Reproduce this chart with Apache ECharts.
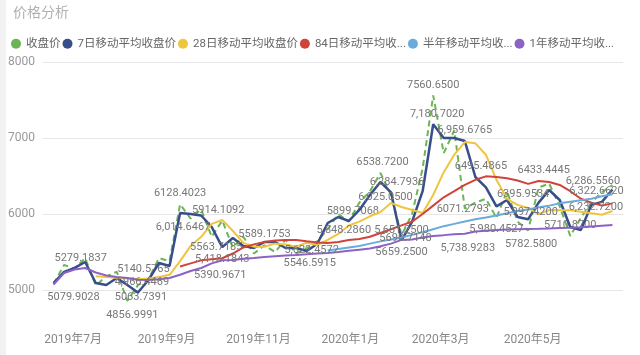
<!DOCTYPE html>
<html>
<head>
<meta charset="UTF-8">
<script src="https://cdn.jsdelivr.net/npm/echarts@6/dist/echarts.min.js"></script>
<title>价格分析</title>
</head>
<body style="margin:0">
<div id="main" style="width:640px;height:355px;"></div>
<script>
// weekly dates
var dates = ['2019-06-18','2019-06-25','2019-07-02','2019-07-09','2019-07-16','2019-07-23','2019-07-30',
  '2019-08-06','2019-08-13','2019-08-20','2019-08-27','2019-09-03','2019-09-10','2019-09-17','2019-09-24',
  '2019-10-01','2019-10-08','2019-10-15','2019-10-22','2019-10-29','2019-11-05','2019-11-12','2019-11-19',
  '2019-11-26','2019-12-03','2019-12-10','2019-12-17','2019-12-24','2019-12-31','2020-01-07','2020-01-14',
  '2020-01-21','2020-01-28','2020-02-04','2020-02-11','2020-02-18','2020-02-25','2020-03-03','2020-03-10',
  '2020-03-17','2020-03-24','2020-03-31','2020-04-07','2020-04-14','2020-04-21','2020-04-28','2020-05-05',
  '2020-05-12','2020-05-19','2020-05-26','2020-06-02','2020-06-09','2020-06-16','2020-06-23'];

var seriesNames = ['收盘价', '7日移动平均收盘价', '28日移动平均收盘价', '84日移动平均收盘价', '半年移动平均收盘价', '1年移动平均收盘价'];

var closePrice = [5079.9028, 5330, 5279.1837, 5420, 5060, 5180, 5240, 4856.9991, 5063.7391, 5140.5765, 5420, 5380,
  6128.4023, 5940, 6060, 5700, 5914.1092, 5560, 5700, 5480, 5589.1753, 5500, 5660, 5480, 5546.5915, 5640, 5800,
  6000, 5899.7068, 6150, 6300, 6538.72, 6250, 5720, 6000, 6600, 7560.65, 6800, 7100, 6071.2793, 6150, 6200,
  5950, 6300, 5900, 5782.58, 6350, 6400, 6100, 5710.87, 5950, 6150, 6286.556, 6380];

var ma7 = [5092, 5237, 5290, 5368, 5092, 5066, 5158, 5066, 4966.4469, 5132, 5355, 5316, 6014.6467, 6000, 5980,
  5829, 5563.7185, 5684, 5579, 5553, 5632, 5632, 5553, 5553, 5513, 5605, 5882, 5961, 5908, 6053, 6250, 6421,
  6284.7936, 5651.25, 5900, 6300, 7180.702, 7000, 7000, 6959.6765, 6487, 6350, 6100, 6184, 5961, 5930, 6150,
  6316, 6184, 5829, 5789, 6120, 6160, 6322.662];

var ma28 = [null, null, null, null, 5180, 5170, 5160, 5150, 5140, 5150, 5170, 5200, 5380, 5580, 5700, 5870,
  5921, 5780, 5620, 5570, 5570, 5610, 5600, 5570, 5622.4572, 5592, 5658, 5737, 5848.286, 5900, 5970, 6025.05,
  6145, 6092, 6053, 6013, 6250, 6550, 6780, 6947, 6930, 6780, 6450, 6200, 6120, 6079, 5997.42, 6053, 6050,
  6050, 6030, 6010, 5990, 6040];

var ma84 = [null, null, null, null, null, null, null, null, null, null, null, null, 5310, 5350, 5390, 5405,
  5418.1843, 5480, 5560, 5600, 5632, 5650, 5658, 5658, 5640, 5625, 5618, 5632, 5658, 5670, 5700, 5750, 5800,
  5850, 5900, 6000, 6110, 6220, 6300, 6382, 6450, 6495.4865, 6487, 6470, 6440, 6395.9534, 6433.4445, 6420,
  6382, 6300, 6200, 6150, 6110, 6140];

var maHalfYear = [null, null, null, null, null, null, null, null, null, null, null, null, null, null, null,
  null, null, null, null, null, null, null, null, null, null, null, 5520, 5540, 5560, 5580, 5610, 5640, 5665,
  5690.7148, 5725, 5760, 5800, 5840, 5870, 5900, 5930, 5955, 5980.4527, 6010, 6040, 6060, 6090, 6110, 6140,
  6160, 6180, 6200, 6232.72, 6260];

var maYear = [5070, 5224, 5270, 5290, 5230, 5190, 5170, 5158, 5135, 5132, 5140, 5158, 5200, 5250, 5289, 5350,
  5390.9671, 5395, 5410, 5421, 5434, 5445, 5455, 5461, 5470, 5480, 5487, 5500, 5515, 5530, 5545, 5575, 5610,
  5659.25, 5665, 5690, 5712, 5722, 5735, 5738.9283, 5770, 5780, 5789, 5795, 5800, 5803, 5806, 5810, 5815,
  5818, 5825, 5835, 5845, 5855];

var yTicks = [5000, 6000, 7000, 8000];

// labelled points: [series, point, position, comma, dx, dy]
var pointLabels = [
  [0, 0, 'bottom', 0, 20, 3],
  [0, 2, 'top', 0, 6, 0],
  [1, 8, 'top', 1, 4, 0],
  [0, 7, 'bottom', 0, 5, 4],
  [0, 8, 'bottom', 0, 3, 2],
  [0, 9, 'top', 0, -5, 0],
  [0, 12, 'top', 0, 0, 0],
  [1, 12, 'bottom', 1, 3, 4],
  [0, 16, 'top', 0, -4, 0],
  [1, 16, 'inside', 0, -6, 0],
  [3, 16, 'inside', 1, 0, 1],
  [5, 16, 'bottom', 0, -2, 4],
  [0, 20, 'top', 0, 0, 0],
  [2, 24, 'bottom', 1, 5, -3],
  [0, 24, 'bottom', 0, 3, 4],
  [2, 28, 'inside', 1, -5, 5],
  [0, 28, 'top', 0, 4, 0],
  [0, 31, 'top', 0, 2, 0],
  [1, 32, 'top', 1, 6, 0],
  [2, 31, 'top', 1, 5, -4],
  [1, 33, 'top', 1, 0, 0],
  [4, 33, 'inside', 0, 4, 1],
  [5, 33, 'bottom', 0, 0, 2],
  [0, 36, 'top', 0, 0, 0],
  [1, 36, 'top', 1, 4, 0],
  [1, 39, 'top', 1, 0, 0],
  [0, 39, 'inside', 0, -2, 1],
  [3, 41, 'top', 0, -5, 0],
  [4, 42, 'bottom', 1, 0, 3],
  [5, 39, 'bottom', 1, 3, 4],
  [3, 45, 'bottom', 0, -5, 0],
  [3, 46, 'top', 0, 5, 0],
  [2, 46, 'inside', 1, -8, -2],
  [0, 45, 'bottom', 0, 3, 3],
  [0, 49, 'top', 0, 0, 0],
  [0, 52, 'top', 1, -9, 0],
  [1, 53, 'inside', 1, -16, 2],
  [4, 52, 'bottom', 1, -6, 0]
];

var colors = ['#6cb556', '#384d8b', '#f0c53e', '#d0433b', '#6aabde', '#8c62c6'];
var allValues = [closePrice, ma7, ma28, ma84, maHalfYear, maYear];

function fmt(v, comma) {
  var s = v.toFixed(4);
  if (!comma) return s;
  var p = s.split('.');
  return p[0].replace(/\B(?=(\d{3})+(?!\d))/g, ',') + '.' + p[1];
}

function buildSeries(si) {
  var data = [];
  allValues[si].forEach(function (v, i) {
    if (v == null) return;
    var item = { value: [dates[i], v] };
    pointLabels.forEach(function (l) {
      if (l[0] === si && l[1] === i) {
        item.symbol = 'circle';
        item.symbolSize = 0;
        item.label = {
          show: true,
          position: l[2],
          offset: [l[4], l[5]],
          formatter: fmt(v, l[3])
        };
      }
    });
    data.push(item);
  });
  return {
    name: seriesNames[si],
    type: 'line',
    data: data,
    symbol: 'none',
    showSymbol: true,
    color: colors[si],
    lineStyle: {
      width: si === 1 ? 2.5 : 2,
      color: colors[si],
      type: si === 0 ? [6, 4] : 'solid'
    },
    label: { fontSize: 11, color: '#777', fontFamily: 'Roboto, sans-serif' },
    z: si === 0 ? 2 : 3
  };
}

var chart = echarts.init(document.getElementById('main'));
function cut(w) {
  return { width: w, overflow: 'truncate', ellipsis: '...' };
}

chart.setOption({
  animation: false,
  textStyle: { fontFamily: 'Roboto, "Noto Sans CJK SC", sans-serif' },
  title: {
    text: '价格分析',
    left: 8,
    top: 2,
    textStyle: { color: '#b0b0b0', fontSize: 14, fontWeight: 'normal' }
  },
  legend: {
    left: 6,
    top: 33,
    width: 634,
    icon: 'circle',
    itemWidth: 10,
    itemHeight: 10,
    itemGap: 2,
    textStyle: { fontSize: 11.5, color: '#666' },
    data: [
      { name: seriesNames[0] },
      { name: seriesNames[1] },
      { name: seriesNames[2] },
      { name: seriesNames[3], textStyle: cut(100) },
      { name: seriesNames[4], textStyle: cut(98) },
      { name: seriesNames[5], textStyle: cut(94) }
    ]
  },
  grid: { left: 43, right: 17, top: 62, bottom: 27 },
  xAxis: {
    type: 'time',
    min: '2019-06-11',
    max: '2020-06-30',
    minInterval: 28 * 86400000,
    maxInterval: 31 * 86400000,
    axisLine: { show: false },
    axisTick: { show: false },
    splitLine: { show: false },
    axisLabel: {
      color: '#888',
      fontSize: 12,
      margin: 6,
      formatter: function (val) {
        var d = new Date(val);
        if (d.getMonth() % 2 !== 0) return '';
        return d.getFullYear() + '年' + (d.getMonth() + 1) + '月';
      }
    }
  },
  yAxis: {
    type: 'value',
    min: 4500,
    max: 8000,
    interval: 500,
    axisLine: { show: false },
    axisTick: { show: false },
    axisLabel: {
      color: '#999',
      fontSize: 12,
      formatter: function (v) { return yTicks.indexOf(v) >= 0 ? String(v) : ''; }
    },
    splitLine: { lineStyle: { color: ['rgba(0,0,0,0)', '#e6e6e6'] } }
  },
  graphic: [
    { type: 'rect', left: 0, top: 0, shape: { width: 6, height: 355 }, style: { fill: '#f2f2f2' } }
  ],
  series: [0, 1, 2, 3, 4, 5].map(buildSeries)
});
</script>
</body>
</html>
